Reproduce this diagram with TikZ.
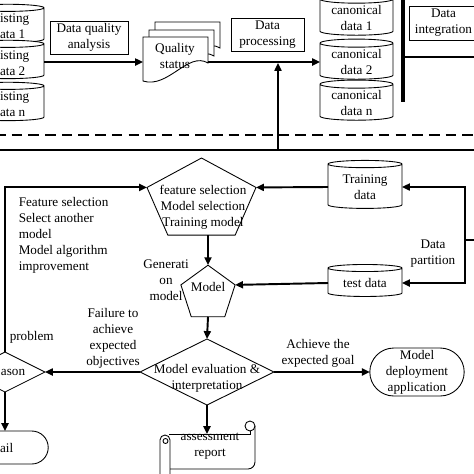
\documentclass[tikz,border=0pt]{standalone}
\usepackage{fontspec}
\setmainfont{Liberation Serif}
\usetikzlibrary{shapes.geometric,shapes.misc,arrows.meta}

\begin{document}
\begin{tikzpicture}[x=0.02cm,y=-0.02cm,font=\fontsize{7.5}{9.1}\selectfont]
  \tikzstyle{every node}=[inner sep=1pt, outer sep=0pt, align=center]
  \tikzstyle{flow}=[line width=1.1pt, -{Triangle[length=4.5pt,width=4pt]}]
  \tikzstyle{thickline}=[line width=1.1pt]
  \tikzstyle{box}=[rectangle, draw, line width=0.5pt]
  \tikzstyle{db}=[cylinder, shape border rotate=90, aspect=0.15, draw, line width=0.5pt, fill=white]
  \tikzstyle{term}=[rounded rectangle, draw, line width=0.5pt]
  \tikzstyle{doc}=[draw, line width=0.5pt, fill=white]
  \tikzstyle{decide}=[diamond, draw, line width=0.5pt, inner sep=0pt]
  \tikzstyle{penta}=[regular polygon, regular polygon sides=5, draw, line width=0.5pt, inner sep=0pt]
  \tikzstyle{edgetext}=[anchor=west, align=left, inner sep=0pt]
  \useasboundingbox (0,0) rectangle (474,474);
  \clip (0,0) rectangle (474,474);

  % data sources (cut by the left edge)
  \node[db, minimum width=1.44cm, minimum height=0.76cm] (ex1) at (8,26) {\phantom{Existing}\\\phantom{data 1}};
  \node[db, minimum width=1.44cm, minimum height=0.76cm] (ex2) at (8,62) {\phantom{Existing}\\\phantom{data 2}};
  \node[db, minimum width=1.44cm, minimum height=0.76cm] (exN) at (8,104) {\phantom{Existing}\\\phantom{data n}};
  \node[edgetext] (ex1Text) at (0,26) {isting\\ata 1};
  \node[edgetext] (ex2Text) at (0,63) {isting\\ata 2};
  \node[edgetext] (exNText) at (0,104) {isting\\ata n};
  \node[box, minimum width=1.56cm, minimum height=0.66cm] (dqa) at (89,37.5) {Data quality\\analysis};

  % quality status (stacked documents)
  \foreach \dx/\dy in {12/-15, 6/-7, 0/0}
    \draw[doc, shift={(\dx,\dy)}] (143,37) -- (208,37) -- (208,63)
      .. controls (188,51) and (168,89) .. (143,81) -- cycle;
  \node (qs) at (175,55.5) {Quality\\status};
  \coordinate (qsL) at (143,62);
  \coordinate (qsR) at (208,62);

  \node[box, minimum width=1.46cm, minimum height=0.66cm] (dproc) at (267.5,34.5) {Data\\processing};
  \node[db, minimum width=1.46cm, minimum height=0.8cm] (can1) at (356.5,18) {canonical\\data 1};
  \node[db, minimum width=1.46cm, minimum height=0.8cm] (can2) at (356.5,62) {canonical\\data 2};
  \node[db, minimum width=1.46cm, minimum height=0.8cm] (canN) at (356.5,103) {canonical\\data n};
  \node[box, minimum width=1.44cm, minimum height=0.68cm] (dint) at (445,23) {};
  \node[inner sep=0pt] (dintText) at (443.5,23) {Data\\integration};

  \coordinate (barT) at (403,-5);
  \coordinate (barB) at (403,102);
  \coordinate (barR) at (403,57);
  \coordinate (intOut) at (480,57);
  \coordinate (up0) at (278,150);
  \coordinate (up1) at (278,63);

  \draw[flow] (ex2.east) -- (qsL);
  \draw[flow] (qsR) -- (can2.west);
  \draw[flow] (up0) -- (up1);
  \draw[line width=2.5pt] (barT) -- (barB);
  \draw[thickline] (barR) -- (intOut);

  % separators
  \draw[thickline, dash pattern=on 6pt off 3.5pt] (-5,135) -- (480,135);
  \draw[thickline] (-5,150) -- (480,150);

  % modelling loop
  \begin{scope}[shift={(201.5,200.6)}, xscale=1.346]
    \node[penta, minimum size=1.704cm, transform shape] (fs) at (0,0) {};
  \end{scope}
  \node (fsText) at (203,207) {feature selection\\Model selection\\Training model};

  \node[penta, minimum size=1.14cm] (mdl) at (208,293.7) {};
  \node (mdlText) at ([yshift=3.8pt]mdl.center) {Model};

  \node[db, minimum width=1.48cm, minimum height=0.96cm] (train) at (365,187) {Training\\data};
  \node[db, minimum width=1.48cm, minimum height=0.64cm] (test) at (365,283) {test data};
  \coordinate (dp) at (465,240);
  \coordinate (dpIn) at (480,240);

  \node[decide, minimum width=2.68cm, minimum height=1.32cm] (eval) at (207,372) {};
  \node (evalText) at (207,378) {Model evaluation \&\\interpretation};
  \node[decide, minimum width=1.6cm, minimum height=0.8cm] (rsn) at (5,372) {};
  \node[edgetext] (rsnText) at (1,372) {ason};
  \node[term, minimum width=1.8cm, minimum height=0.66cm] (fail) at (5,447.5) {};
  \node[edgetext] (failText) at (0,447.5) {ail};
  \node[term, minimum width=1.88cm, minimum height=0.96cm] (dep) at (417,372) {Model\\deployment\\application};

  % assessment report scroll
  \draw[line width=0.5pt] (169,434) -- (250,434) -- (250,431);
  \draw[line width=0.5pt] (250,426) circle (5);
  \draw[line width=0.5pt, rounded corners=4pt] (255,426) -- (255,469) -- (170,469);
  \draw[line width=0.5pt] (160,480) -- (160,440) arc[start angle=180, end angle=360, radius=5] -- (170,480);
  \draw[line width=0.5pt] (165.5,441) circle (2.5);
  \node (rpt) at (210,446.5) {assessment\\report};
  \coordinate (rptTop) at (207,434);

  % labels
  \node[anchor=west, align=left] (fixText) at (17,235.5) {Feature selection\\Select another\\model\\Model algorithm\\improvement};
  \node (genText) at (166,280) {Generati\\on\\model};
  \node (whyText) at (113,338.5) {Failure to\\achieve\\expected\\objectives};
  \node (achText) at (318,353.5) {Achieve the\\expected goal};
  \node[anchor=west] (probText) at (8,337) {problem};
  \node (dpText) at (433,254) {Data\\partition};

  % connectors
  \draw[flow] (rsn.north) |- (fs.corner 2);
  \draw[flow] (train.west) -- (fs.corner 5);
  \draw[flow] (test.west) -- (mdl.corner 5);
  \draw[flow] (mdl.north |- fs.south) -- (mdl.north);
  \draw[flow] (mdl.south) -- (eval.north);
  \draw[flow] (eval.west) -- (rsn.east);
  \draw[flow] (eval.east) -- (dep.west);
  \draw[flow] (eval.south) -- (rptTop);
  \draw[flow] (rsn.south) -- (fail.north);
  \draw[thickline] (dpIn) -- (dp);
  \draw[flow] (dp) |- (train.east);
  \draw[flow] (dp) |- (test.east);
\end{tikzpicture}
\end{document}
